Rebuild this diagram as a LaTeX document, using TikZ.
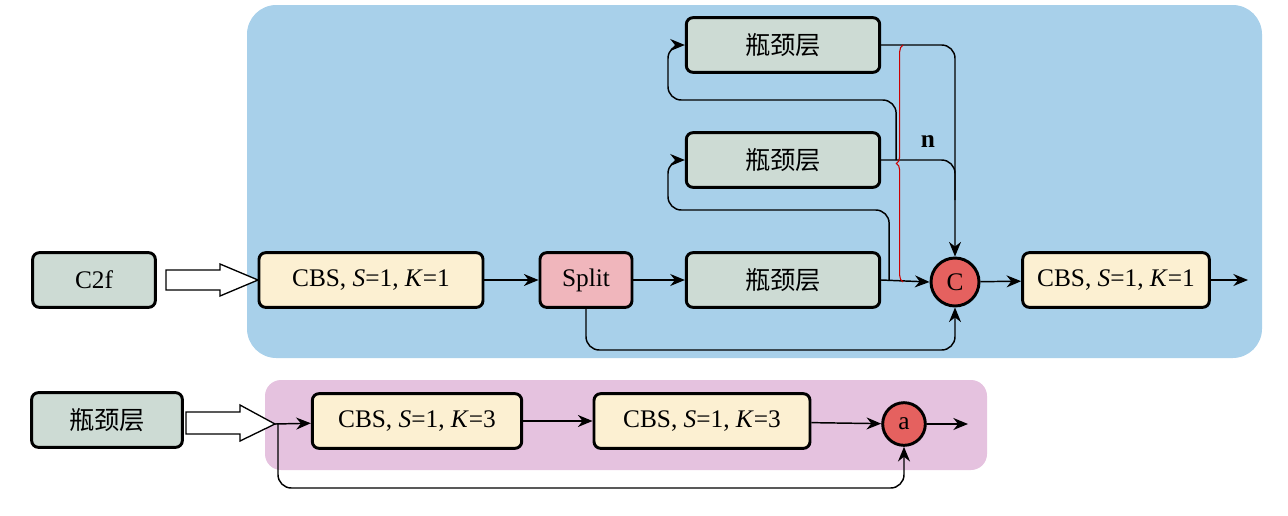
\documentclass[tikz,border=0pt]{standalone}
\usepackage{fontspec}
\setmainfont{Liberation Serif}
\newfontfamily\cjk{Noto Sans CJK SC}
\usetikzlibrary{arrows.meta,decorations.pathreplacing}
\definecolor{bgblue}{HTML}{A8D0EA}
\definecolor{bgpink}{HTML}{E5C2DF}
\definecolor{gbox}{HTML}{CDDBD4}
\definecolor{ybox}{HTML}{FCF0D2}
\definecolor{pbox}{HTML}{F0B6BC}
\definecolor{rc}{HTML}{E5615F}
\begin{document}
\begin{tikzpicture}[x=0.75pt,y=-0.75pt,
  bx/.style={draw=black,line width=2.2pt,rounded corners=5pt,minimum height=41pt,inner sep=0pt,font=\fontsize{19}{19}\selectfont},
  gb/.style={bx,fill=gbox},
  yb/.style={bx,fill=ybox},
  cir/.style={circle,draw=black,line width=2.2pt,fill=rc,minimum size=36pt,inner sep=0pt,font=\fontsize{19}{19}\selectfont},
  ar/.style={-{Stealth[length=11pt,width=9pt]},line width=1.1pt},
  ln/.style={line width=1.1pt,rounded corners=10pt},
  hollow/.style={draw=black,line width=1pt,fill=white}]
\useasboundingbox (0,0) rectangle (1288,515);
\fill[bgblue,rounded corners=22pt] (247,5) rectangle (1262,358);
\fill[bgpink,rounded corners=12pt] (265,380) rectangle (987,470);
% nodes
\node[gb,minimum width=92pt] (c2f) at (94,280) {C2f};
\node[yb,minimum width=168pt] (cbs1) at (371,280) {CBS, \textit{S}=1, \textit{K}=1};
\node[bx,fill=pbox,minimum width=69pt] (split) at (586,280) {Split};
\node[gb,minimum width=145pt] (b3) at (783,280) {\cjk 瓶颈层};
\node[gb,minimum width=145pt] (b2) at (783,160) {\cjk 瓶颈层};
\node[gb,minimum width=145pt] (b1) at (783,45) {\cjk 瓶颈层};
\node[cir] (c) at (955,282) {C};
\node[yb,minimum width=140pt] (cbs2) at (1116,280) {CBS, \textit{S}=1, \textit{K}=1};
\coordinate (oute) at (1248,280);
\node[gb,minimum width=113pt] (bn) at (107,420) {\cjk 瓶颈层};
\node[yb,minimum width=157pt] (cbsa) at (417,421) {CBS, \textit{S}=1, \textit{K}=3};
\node[yb,minimum width=162pt] (cbsb) at (702,421) {CBS, \textit{S}=1, \textit{K}=3};
\node[cir,minimum size=32pt] (a) at (904,424) {a};
\coordinate (oute2) at (968,424);
% hollow arrows
\draw[hollow] (166,270) -- (220,270) -- (220,264) -- (258,280) -- (220,296) -- (220,290) -- (166,290) -- cycle;
\draw[hollow] (186,412) -- (240,412) -- (240,405) -- (275,424) -- (240,441) -- (240,434) -- (186,434) -- cycle;
% connectors top
\draw[ar] (cbs1) -- (split);
\draw[ar] (split) -- (b3);
\draw[ar] (b3.east) -- (c.west);
\draw[ar] (c) -- (cbs2);
\draw[ar] (cbs2) -- (oute);
\draw[ar,rounded corners=10pt] (b3.east)++(8,0) -- ++(0,-70) -- (668,210) -- (668,160) -- (b2.west);
\draw[ar,rounded corners=10pt] (b2.east)++(15,0) -- ++(0,-60) -- (668,100) -- (668,45) -- (b1.west);
\draw[ar,rounded corners=10pt] (b1.east) -- (955,45) -- (c.north);
\draw[ln] (b2.east) -- (955,160) -- (955,200);
\draw[ar,rounded corners=10pt] (split.south) -- (586,350) -- (955,350) -- (c.south);
\draw[red!80!black,line width=0.8pt,decorate,decoration={brace,amplitude=5pt}] (903,282) -- (903,45);
\node[font=\bfseries\fontsize{19}{19}\selectfont] (nl) at (928,142) {n};
% bottom
\draw[ar] (275,424) -- (cbsa);
\draw[ar] (cbsa) -- (cbsb);
\draw[ar] (cbsb) -- (a);
\draw[ar] (a) -- (oute2);
\draw[ar,rounded corners=10pt] (278,424) -- (278,488) -- (904,488) -- (a.south);
\end{tikzpicture}
\end{document}
